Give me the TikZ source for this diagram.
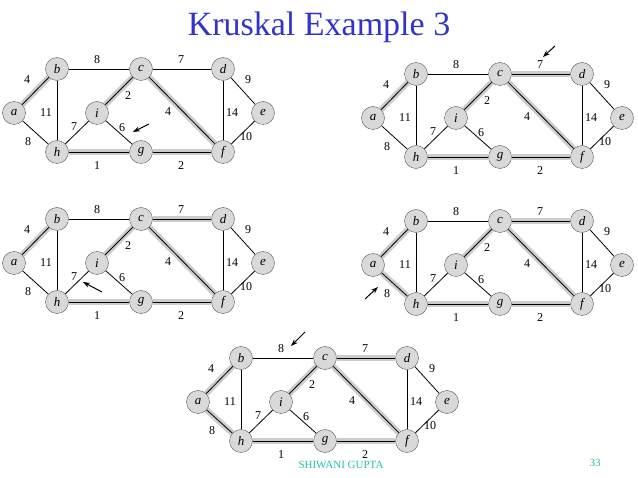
\documentclass[tikz,border=0pt]{standalone}
\usepackage{fontspec}
\setmainfont{Liberation Serif}
\usetikzlibrary{backgrounds,arrows.meta}
\definecolor{titleblue}{RGB}{51,51,204}
\definecolor{foot}{RGB}{40,190,170}
\begin{document}
\begin{tikzpicture}[x=1pt,y=-1pt,
  vtx/.style={circle,draw=gray!70!black,fill=gray!30,minimum size=23pt,inner sep=0pt,font=\fontsize{13}{13}\selectfont\itshape},
  edg/.style={black,line width=0.8pt},
  hl/.style={gray!40,line width=6pt},
  wlab/.style={font=\fontsize{12}{12}\selectfont,inner sep=0pt},
  pick/.style={-{Stealth[length=7pt,width=5pt]},line width=1pt}]
\useasboundingbox (0,0) rectangle (638,478);
\node[text=titleblue,font=\fontsize{34}{34}\selectfont] (title) at (319,27) {Kruskal Example 3};
\newcommand\kgraph[6]{%
 \begin{scope}[shift={(#2,#3)}]
 \node[vtx] (#1a) at (14,113) {a};
 \node[vtx] (#1b) at (57,69) {b};
 \node[vtx] (#1c) at (141,69) {c};
 \node[vtx] (#1d) at (223,69) {d};
 \node[vtx] (#1e) at (263,113) {e};
 \node[vtx] (#1h) at (57,152) {h};
 \node[vtx] (#1i) at (97,113) {i};
 \node[vtx] (#1g) at (141,152) {g};
 \node[vtx] (#1f) at (223,152) {f};
 \begin{scope}[on background layer]
 \foreach \u/\v in {#4} \draw[hl] (#1\u) -- (#1\v);
 \foreach \u/\v in {a/b,b/c,c/d,d/e,a/h,b/h,h/i,i/c,i/g,c/f,d/f,e/f,h/g,g/f} \draw[edg] (#1\u) -- (#1\v);
 \end{scope}
 \node[wlab] (#1w1) at (27,80) {4};
 \node[wlab] (#1w2) at (97,60) {8};
 \node[wlab] (#1w3) at (181,60) {7};
 \node[wlab] (#1w4) at (248,80) {9};
 \node[wlab] (#1w5) at (46,113) {11};
 \node[wlab] (#1w6) at (128,96) {2};
 \node[wlab] (#1w7) at (168,112) {4};
 \node[wlab] (#1w8) at (232,113) {14};
 \node[wlab] (#1w9) at (74,127) {7};
 \node[wlab] (#1w10) at (122,128) {6};
 \node[wlab] (#1w11) at (28,142) {8};
 \node[wlab] (#1w12) at (246,137) {10};
 \node[wlab] (#1w13) at (97,166) {1};
 \node[wlab] (#1w14) at (181,166) {2};
 \coordinate (#1t) at #5;
 \coordinate (#1p) at #6;
 \draw[pick] (#1t) -- (#1p);
 \end{scope}}
\kgraph{p}{0}{0}{a/b,c/i,c/f,h/g,g/f}{(149,124)}{(133,132)}
\kgraph{q}{359}{5}{a/b,c/i,c/f,h/g,g/f,c/d}{(196,41)}{(184,52)}
\kgraph{r}{0}{150}{a/b,c/i,c/f,h/g,g/f,c/d}{(102,142)}{(83,132)}
\kgraph{s}{359}{152}{a/b,c/i,c/f,h/g,g/f,c/d,a/h}{(6,147)}{(19,135)}
\kgraph{t}{184}{289}{a/b,c/i,c/f,h/g,g/f,c/d,a/h}{(121,43)}{(107,57)}
\node[text=foot,font=\fontsize{11}{11}\selectfont] (auth) at (341,465) {SHIWANI GUPTA};
\node[text=foot,font=\fontsize{11}{11}\selectfont] (pg) at (595,463) {33};
\end{tikzpicture}
\end{document}
